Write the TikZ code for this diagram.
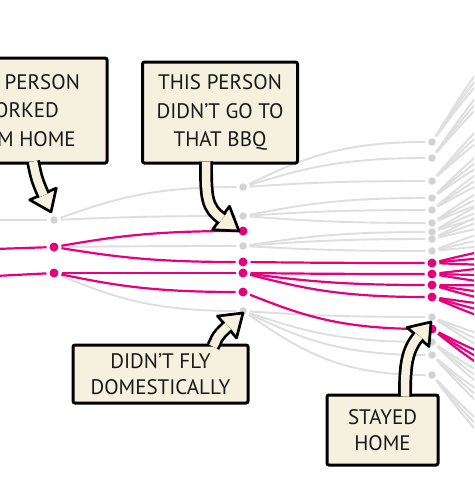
\documentclass[tikz,border=0pt]{standalone}
\usepackage{fontspec}
\setmainfont{PT Sans}
\usetikzlibrary{calc}
\definecolor{cream}{RGB}{246,241,222}
\definecolor{hot}{RGB}{230,0,126}
\definecolor{lgray}{RGB}{222,222,222}
\definecolor{dgray}{RGB}{210,210,210}
\newcommand\fanlink[3]{\draw[#3] let \p1=(#1.center), \p2=(#2), \n1={\x2-\x1}, \n2={\y2-\y1} in (#1) .. controls ($(\p1)+({0.3*\n1},{0.6*\n2})$) and ($(\p2)+({-0.5*\n1},0)$) .. (#2);}
\newcommand\calloutarrow[4]{%
  \filldraw[head] (#4) -- ($(#3)!14.5pt!90:(#4)$) -- ($(#3)!14.5pt!-90:(#4)$) -- cycle;
  \draw[shaft] (#1) .. controls (#2) and ($(#3)!-18pt!(#4)$) .. ($(#3)!1.5pt!(#4)$);}
\begin{document}
\begin{tikzpicture}[x=1pt,y=1pt,
  gdot/.style={circle,fill=dgray,inner sep=0pt,minimum size=7.5pt,outer sep=3pt},
  pdot/.style={circle,fill=hot,inner sep=0pt,minimum size=9pt,outer sep=3pt},
  gl/.style={draw=lgray,line width=1.9pt},
  pl/.style={draw=hot,line width=2.2pt},
  callout/.style={draw=black,fill=cream,line width=3pt,rounded corners=2pt,align=center,inner sep=0pt,text=black!90},
  three/.style={font=\fontsize{21}{28.5}\selectfont},
  two/.style={font=\fontsize{21}{26}\selectfont},
  shaft/.style={draw=black,line width=2.7pt,double=cream,double distance=8.5pt},
  head/.style={draw=black,fill=cream,line width=2.7pt,line join=round}
]
\useasboundingbox (0,0) rectangle (474,-479);
\fill[white] (0,0) rectangle (474,-479);
\begin{scope}
\clip (0,0) rectangle (474,-479);
% left edge
\coordinate (l1) at (-5,-220);
\coordinate (l2) at (-5,-249);
\coordinate (l3) at (-5,-276);
% column 1
\node[gdot] (a1) at (54,-220) {};
\node[pdot] (a2) at (54,-247) {};
\node[pdot] (a3) at (54,-273) {};
% column 2
\node[gdot] (b1) at (243,-187) {};
\node[gdot] (b2) at (243,-216) {};
\node[pdot] (b3) at (243,-231) {};
\node[gdot] (b4) at (243,-246) {};
\node[pdot] (b5) at (243,-262) {};
\node[pdot] (b6) at (243,-273) {};
\node[pdot] (b7) at (243,-292) {};
\node[gdot] (b8) at (243,-311) {};
% column 3
\foreach \nm/\yy/\st in {c1/142/gdot,c2/158/gdot,c3/181/gdot,c4/198/gdot,c5/210/gdot,c6/223/gdot,c7/232/gdot,c8/239/gdot,c9/251/gdot,c10/263/pdot,c11/274/pdot,c12/285/pdot,c13/297/pdot,c14/317/gdot,c15/329/pdot,c16/342/gdot,c17/355/gdot,c18/375/gdot}{
  \node[\st] (\nm) at (432,-\yy) {};
}
% gray links
\draw[gl] (l1) -- (a1);
\fanlink{a1}{b1}{gl}
\fanlink{a1}{b2}{gl}
\fanlink{a2}{b4}{gl}
\fanlink{a3}{b8}{gl}
\foreach \s/\t in {b1/c1,b1/c2,b1/c3,b2/c4,b2/c5,b2/c6,b4/c7,b4/c8,b4/c9,b8/c14,b8/c16,b8/c17,b8/c18}{
  \fanlink{\s}{\t}{gl}
}
\foreach \nm/\yy/\st in {c1/142/gl,c2/158/gl,c3/181/gl,c4/198/gl,c5/210/gl,c6/223/gl,c7/232/gl,c8/239/gl,c9/251/gl,c14/317/gl,c16/342/gl,c17/355/gl,c18/375/gl,c10/263/pl,c11/274/pl,c12/285/pl,c13/297/pl,c15/329/pl}{
  \foreach \k in {-13,0,13}{
    \coordinate (o\nm\k) at (617,{-(\yy+(\yy-272)*1.05+\k)});
    \fanlink{\nm}{o\nm\k}{\st}
  }
}
% pink links
\draw[pl] (l2) -- (a2);
\draw[pl] (l3) -- (a3);
\foreach \s/\t in {a2/b3,a2/b5,a3/b6,a3/b7,b5/c10,b6/c11,b6/c12,b6/c13,b7/c15}{
  \fanlink{\s}{\t}{pl}
}
% callouts
\node[callout,three,minimum width=178pt,minimum height=105pt] (box1) at (18,-110.5) {THIS PERSON\\WORKED\\FROM HOME};
\node[callout,three,minimum width=155pt,minimum height=101pt] (box2) at (220,-112.5) {THIS PERSON\\DIDN’T GO TO\\THAT BBQ};
\node[callout,two,minimum width=175pt,minimum height=58pt] (box3) at (160.5,-374) {DIDN’T FLY\\DOMESTICALLY};
\node[callout,two,minimum width=111pt,minimum height=70pt] (box4) at (382.5,-430) {STAYED\\HOME};
% arrows
\coordinate (s1) at (33,-161.5);
\coordinate (k1) at (36,-175);
\coordinate (e1) at (43,-194);
\coordinate (t1) at (51,-212);
\calloutarrow{s1}{k1}{e1}{t1}
\coordinate (s2) at (206,-161.5);
\coordinate (k2) at (206,-198);
\coordinate (e2) at (221,-218);
\coordinate (t2) at (239,-231);
\calloutarrow{s2}{k2}{e2}{t2}
\coordinate (s3) at (213,-346.5);
\coordinate (k3) at (217,-341);
\coordinate (e3) at (227,-327);
\coordinate (t3) at (243,-313);
\calloutarrow{s3}{k3}{e3}{t3}
\coordinate (s4) at (405,-396.5);
\coordinate (k4) at (405,-367);
\coordinate (e4) at (418,-337);
\coordinate (t4) at (431,-322);
\calloutarrow{s4}{k4}{e4}{t4}
\end{scope}
\end{tikzpicture}
\end{document}
